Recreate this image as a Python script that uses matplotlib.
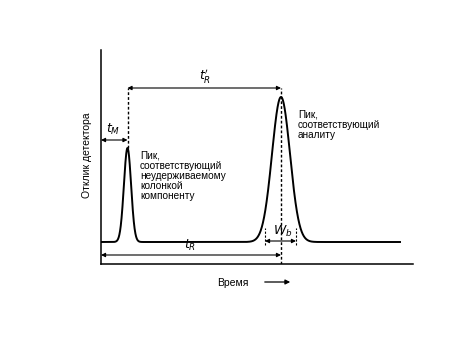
import numpy as np
import matplotlib.pyplot as plt

# --- данные хроматограммы (условные единицы времени и отклика) ---
baseline = 2.2
peak_names = ["неудерживаемый", "аналит"]
peak_times = [2.65, 18.0]      # t_M, t_R
peak_heights = [9.4, 14.5]
peak_sigmas = [0.36, 0.9]
t_end = 29.9
wb_edges = [16.4, 19.5]        # границы ширины пика у основания

label_unretained = "Пик,\nсоответствующий\nнеудерживаемому\nколонкой\nкомпоненту"
label_analyte = "Пик,\nсоответствующий\nаналиту"
xlabel = "Время"
ylabel = "Отклик детектора"

plt.rcParams['font.family'] = ['Liberation Sans', 'DejaVu Sans']

fig = plt.figure(figsize=(4.74, 3.55), dpi=100)
W, H = 474, 355
ax = fig.add_axes([101 / W, 1 - 264 / H, 312 / W, 214 / H])
ax.set_xlim(0, 31.2)
ax.set_ylim(0, 21.4)

t = np.linspace(0, t_end, 3000)
signal = np.full_like(t, baseline)
for tc, h, s in zip(peak_times, peak_heights, peak_sigmas):
    signal += h * np.exp(-0.5 * ((t - tc) / s) ** 2)
ax.plot(t, signal, color='black', lw=1.4)

for side in ['top', 'right']:
    ax.spines[side].set_visible(False)
ax.spines['left'].set_linewidth(1.1)
ax.spines['bottom'].set_linewidth(1.1)
ax.set_xticks([])
ax.set_yticks([])

t_m, t_r = peak_times
top_m = baseline + peak_heights[0]
y_tr_prime = 17.6
y_tm = 12.4
y_tr = 0.9
y_wb = 2.3

arrow = dict(arrowstyle='<|-|>', color='black', lw=0.8,
             mutation_scale=6, shrinkA=0, shrinkB=0)

# t_M
ax.annotate('', xy=(0, y_tm), xytext=(t_m, y_tm), arrowprops=arrow)
ax.text(1.2, y_tm + 0.3, r'$t_M$', ha='center', va='bottom', fontsize=9)

# t'_R
ax.annotate('', xy=(t_m, y_tr_prime), xytext=(t_r, y_tr_prime), arrowprops=arrow)
ax.text(10.4, y_tr_prime + 0.3, r"$t_R'$", ha='center', va='bottom', fontsize=9)
ax.plot([t_m, t_m], [top_m, y_tr_prime], color='black', lw=1.0, ls=(0, (2, 1.5)))
ax.plot([t_r, t_r], [0, y_tr_prime], color='black', lw=1.0, ls=(0, (2, 1.5)))

# t_R
ax.annotate('', xy=(0, y_tr), xytext=(t_r, y_tr), arrowprops=arrow)
ax.text(8.9, y_tr + 0.2, r'$t_R$', ha='center', va='bottom', fontsize=9)

# W_b
for xe in wb_edges:
    ax.plot([xe, xe], [1.9, 3.6], color='black', lw=0.8, ls=(0, (2, 1.5)))
ax.annotate('', xy=(wb_edges[0], y_wb), xytext=(wb_edges[1], y_wb), arrowprops=arrow)
ax.text(18.2, y_wb + 0.2, r'$W_b$', ha='center', va='bottom', fontsize=9)

# подписи пиков
ax.text(3.9, 11.3, label_unretained, ha='left', va='top', fontsize=7.2,
        linespacing=1.0)
ax.text(19.7, 15.4, label_analyte, ha='left', va='top', fontsize=7.2,
        linespacing=1.0)

# подписи осей
fig.text(87 / W, 1 - 155 / H, ylabel, rotation=90, ha='center', va='center',
         fontsize=7.5)
fig.text(233 / W, 1 - 283 / H, xlabel, ha='center', va='center', fontsize=7.5)
fig.patches.append(plt.matplotlib.patches.FancyArrowPatch(
    (262 / W, 1 - 282 / H), (293 / W, 1 - 282 / H), transform=fig.transFigure,
    arrowstyle='-|>', mutation_scale=7, color='black', lw=0.9))

fig.savefig('out.png', dpi=100)
